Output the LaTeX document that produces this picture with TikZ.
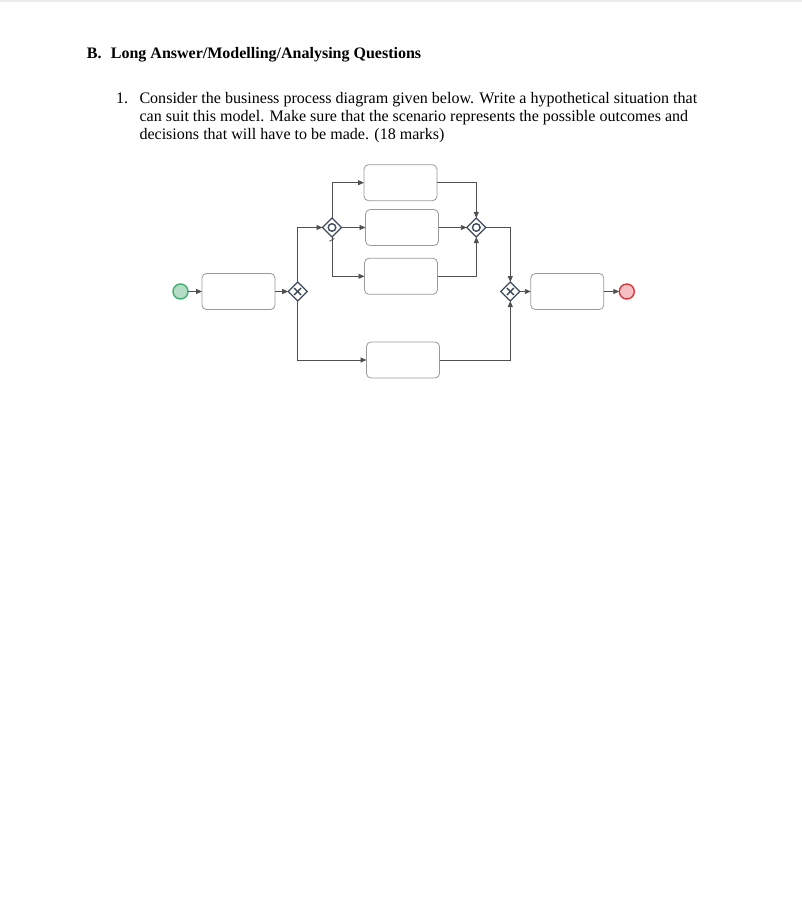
\documentclass[tikz,border=0pt]{standalone}
\usepackage{fontspec}
\setmainfont{Liberation Serif}
\usetikzlibrary{shapes.geometric,arrows.meta}
\definecolor{flowc}{HTML}{505050}
\definecolor{taskc}{HTML}{9A9A9A}
\definecolor{gwc}{HTML}{3D4B5C}
\definecolor{stfill}{HTML}{B5DDC5}
\definecolor{stdraw}{HTML}{3FAE72}
\definecolor{enfill}{HTML}{F4C0C2}
\definecolor{endraw}{HTML}{D9363E}
\tikzset{
  x=1pt,y=-1pt,
  txt/.style={inner sep=0pt,anchor=base west,font=\fontsize{16.05}{17.7}\selectfont},
  hd/.style={txt,font=\fontsize{16.0}{17.7}\selectfont\bfseries},
  task/.style={draw=taskc,line width=0.8pt,rounded corners=4.5pt,minimum width=73pt,minimum height=36pt,inner sep=0pt,outer sep=0pt},
  gw/.style={diamond,draw=gwc,line width=1.3pt,minimum width=19pt,minimum height=19pt,inner sep=0pt,outer sep=0pt,fill=white},
  ev/.style={circle,line width=1.4pt,minimum size=15pt,inner sep=0pt,outer sep=0pt},
  flow/.style={draw=flowc,line width=0.9pt,-{Triangle[length=6pt,width=5pt]}},
}
\begin{document}
\begin{tikzpicture}
\useasboundingbox (0,0) rectangle (802,901);
\fill[white] (0,0) rectangle (802,901);
\fill[black!8] (0,0) rectangle (802,2);
% text
\node[hd] (hB) at (86.7,58.3) {B.};
\node[hd] (hL) at (110.7,58.3) {Long Answer/Modelling/Analysing Questions};
\node[txt] (n1) at (116,104) {1.};
\node[txt] (l1) at (139.3,104) {Consider the business process diagram given below. Write a hypothetical situation that};
\node[txt] (l2) at (139.3,121.7) {can suit this model. Make sure that the scenario represents the possible outcomes and};
\node[txt] (l3) at (139.3,139.3) {decisions that will have to be made. (18 marks)};
% events
\node[ev,fill=stfill,draw=stdraw] (st) at (180.5,291.5) {};
\node[ev,fill=enfill,draw=endraw] (en) at (626.8,291.5) {};
% tasks
\node[task] (t1) at (238.5,291.5) {};
\node[task] (ta) at (400.5,182.7) {};
\node[task] (tb) at (402,227.5) {};
\node[task] (tc) at (401,276.3) {};
\node[task] (td) at (403,360) {};
\node[task] (te) at (567.3,291.5) {};
% gateways
\node[gw] (x1) at (297.7,291.5) {};
\node[gw] (o1) at (332,227.5) {};
\node[gw] (o2) at (476.3,227.5) {};
\node[gw] (x2) at (510.3,291.5) {};
% flows
\draw[flow] (st) -- (t1);
\draw[flow] (t1) -- (x1);
\draw[flow] (x1.north) |- (o1.west);
\draw[flow] (x1.south) |- (td.west);
\draw[flow] (o1.north) |- (ta.west);
\draw[flow] (o1.east) -- (tb.west);
\draw[flow] (o1.south) |- (tc.west);
\draw[flow] (ta.east) -| (o2.north);
\draw[flow] (tb.east) -- (o2.west);
\draw[flow] (tc.east) -| (o2.south);
\draw[flow] (o2.east) -| (x2.north);
\draw[flow] (td.east) -| (x2.south);
\draw[flow] (x2) -- (te);
\draw[flow] (te) -- (en);
% default flow marker
\coordinate (dm1) at (329.6,241.2);
\coordinate (dm2) at (334.4,238.4);
\draw[draw=flowc,line width=0.9pt] (dm1) -- (dm2);
% gateway markers
\draw[gwc,line width=1.4pt] (o1) circle (3.8pt);
\draw[gwc,line width=1.4pt] (o2) circle (3.8pt);
\draw[gwc,line width=1.4pt] ([shift={(-3.5,-3.5)}]x1.center) -- ([shift={(3.5,3.5)}]x1.center) ([shift={(-3.5,3.5)}]x1.center) -- ([shift={(3.5,-3.5)}]x1.center);
\draw[gwc,line width=1.4pt] ([shift={(-3.5,-3.5)}]x2.center) -- ([shift={(3.5,3.5)}]x2.center) ([shift={(-3.5,3.5)}]x2.center) -- ([shift={(3.5,-3.5)}]x2.center);
\end{tikzpicture}
\end{document}
